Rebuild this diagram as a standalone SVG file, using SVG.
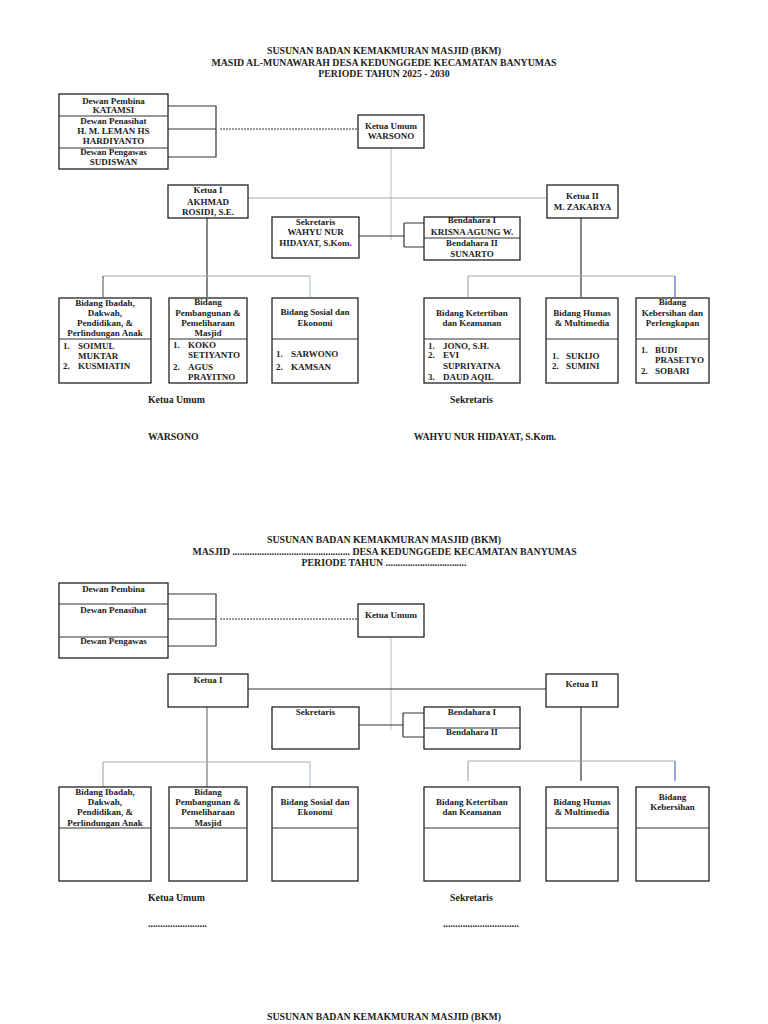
<svg xmlns="http://www.w3.org/2000/svg" width="768" height="1024" viewBox="0 0 768 1024">
<style>
text{font-family:"Liberation Serif","Times New Roman",serif;font-weight:bold;font-size:9px;fill:#222;text-anchor:middle}
text.l{text-anchor:start}
text.h{font-size:9.8px}
text.s{font-size:9.8px}
.box{fill:#fff;stroke:#222;stroke-width:1.3}
.ln{stroke:#333;stroke-width:1.2;fill:none}
.gr{stroke:#aaa;stroke-width:1.2;fill:none}
.lg{stroke:#c8c8c8;stroke-width:1.2;fill:none}
.bl{stroke:#b5c3dc;stroke-width:1.2;fill:none}
.bb{stroke:#4a6fc4;stroke-width:1.2;fill:none}
.dot{stroke:#333;stroke-width:1;stroke-dasharray:2 1;fill:none}
</style>
<rect width="768" height="1024" fill="#fff"/>

<!-- ===== Section 1 ===== -->
<g id="title1">
<text class="h" x="384" y="54">SUSUNAN BADAN KEMAKMURAN MASJID (BKM)</text>
<text class="h" x="384" y="66">MASID AL-MUNAWARAH DESA KEDUNGGEDE KECAMATAN BANYUMAS</text>
<text class="h" x="384" y="77">PERIODE TAHUN 2025 - 2030</text>
</g>

<g id="connectors1">
<path class="ln" d="M168,106H216V157H168M168,129H216"/>
<path class="dot" d="M220,129H358"/>
<path class="lg" d="M391,148V240"/>
<path class="gr" d="M248,198H547"/>
<path class="ln" d="M359,236H404M404,223V247M404,223H424M404,247H424"/>
<path class="ln" d="M207,218V297"/>
<path class="gr" d="M103,276H310"/>
<path class="ln" d="M103,276V297" style="stroke:#666"/>
<path class="bl" d="M310,276V297"/>
<path class="ln" d="M581,218V297"/>
<path class="gr" d="M468,276H675M468,276V297"/>
<path class="bb" d="M675,276V297"/>
</g>

<g id="dewan1">
<rect class="box" x="59" y="94" width="109" height="75"/>
<path class="ln" d="M59,116H168M59,148H168"/>
<text x="113.5" y="104">Dewan Pembina</text>
<text x="113.5" y="113">KATAMSI</text>
<text x="113.5" y="124">Dewan Penasihat</text>
<text x="113.5" y="134">H. M. LEMAN HS</text>
<text x="113.5" y="144">HARDIYANTO</text>
<text x="113.5" y="155">Dewan Pengawas</text>
<text x="113.5" y="165">SUDISWAN</text>
</g>

<g id="ketuaumum1">
<rect class="box" x="358" y="115" width="66" height="33"/>
<text x="391" y="129">Ketua Umum</text>
<text x="391" y="139">WARSONO</text>
</g>

<g id="ketua1-1">
<rect class="box" x="168" y="185" width="80" height="33"/>
<text x="208" y="193">Ketua I</text>
<text x="208" y="205">AKHMAD</text>
<text x="208" y="215">ROSIDI, S.E.</text>
</g>

<g id="ketua2-1">
<rect class="box" x="547" y="185" width="71" height="33"/>
<text x="582.5" y="199">Ketua II</text>
<text x="582.5" y="210">M. ZAKARYA</text>
</g>

<g id="sekretaris1">
<rect class="box" x="272" y="217" width="87" height="41"/>
<text x="315.5" y="225">Sekretaris</text>
<text x="315.5" y="235">WAHYU NUR</text>
<text x="315.5" y="246">HIDAYAT, S.Kom.</text>
</g>

<g id="bendahara1">
<rect class="box" x="424" y="217" width="96" height="43"/>
<path class="ln" d="M424,238H520"/>
<text x="472" y="223">Bendahara I</text>
<text x="472" y="235">KRISNA AGUNG W.</text>
<text x="472" y="246">Bendahara II</text>
<text x="472" y="257">SUNARTO</text>
</g>

<g id="bidang-ibadah1">
<rect class="box" x="59" y="298" width="92" height="85"/>
<path class="ln" d="M59,339H151"/>
<text x="105" y="306">Bidang Ibadah,</text>
<text x="105" y="316">Dakwah,</text>
<text x="105" y="326">Pendidikan, &amp;</text>
<text x="105" y="336">Perlindungan Anak</text>
<text class="l" x="63" y="349">1.</text><text class="l" x="78" y="349">SOIMUL</text>
<text class="l" x="78" y="359">MUKTAR</text>
<text class="l" x="63" y="369">2.</text><text class="l" x="78" y="369">KUSMIATIN</text>
</g>

<g id="bidang-pembangunan1">
<rect class="box" x="169" y="298" width="78" height="85"/>
<path class="ln" d="M169,339H247"/>
<text x="208" y="305">Bidang</text>
<text x="208" y="316">Pembangunan &amp;</text>
<text x="208" y="326">Pemeliharaan</text>
<text x="208" y="336">Masjid</text>
<text class="l" x="173" y="348">1.</text><text class="l" x="188" y="348">KOKO</text>
<text class="l" x="188" y="358">SETIYANTO</text>
<text class="l" x="173" y="370">2.</text><text class="l" x="188" y="370">AGUS</text>
<text class="l" x="188" y="380">PRAYITNO</text>
</g>

<g id="bidang-sosial1">
<rect class="box" x="272" y="298" width="86" height="85"/>
<path class="ln" d="M272,339H358"/>
<text x="315" y="315">Bidang Sosial dan</text>
<text x="315" y="326">Ekonomi</text>
<text class="l" x="276" y="357">1.</text><text class="l" x="291" y="357">SARWONO</text>
<text class="l" x="276" y="370">2.</text><text class="l" x="291" y="370">KAMSAN</text>
</g>

<g id="bidang-ketertiban1">
<rect class="box" x="424" y="298" width="96" height="85"/>
<path class="ln" d="M424,339H520"/>
<text x="472" y="316">Bidang Ketertiban</text>
<text x="472" y="326">dan Keamanan</text>
<text class="l" x="428" y="349">1.</text><text class="l" x="443" y="349">JONO, S.H.</text>
<text class="l" x="428" y="358">2.</text><text class="l" x="443" y="358">EVI</text>
<text class="l" x="443" y="369">SUPRIYATNA</text>
<text class="l" x="428" y="380">3.</text><text class="l" x="443" y="380">DAUD AQIL</text>
</g>

<g id="bidang-humas1">
<rect class="box" x="546" y="298" width="72" height="85"/>
<path class="ln" d="M546,339H618"/>
<text x="582" y="316">Bidang Humas</text>
<text x="582" y="326">&amp; Multimedia</text>
<text class="l" x="552" y="359">1.</text><text class="l" x="566" y="359">SUKIJO</text>
<text class="l" x="552" y="369">2.</text><text class="l" x="566" y="369">SUMINI</text>
</g>

<g id="bidang-kebersihan1">
<rect class="box" x="636" y="298" width="73" height="85"/>
<path class="ln" d="M636,339H709"/>
<text x="672.5" y="305">Bidang</text>
<text x="672.5" y="316">Kebersihan dan</text>
<text x="672.5" y="326">Perlengkapan</text>
<text class="l" x="641" y="353">1.</text><text class="l" x="655" y="353">BUDI</text>
<text class="l" x="655" y="363">PRASETYO</text>
<text class="l" x="641" y="374">2.</text><text class="l" x="655" y="374">SOBARI</text>
</g>

<g id="signatures1">
<text class="l s" x="148" y="403">Ketua Umum</text>
<text class="l s" x="148" y="440">WARSONO</text>
<text class="s" x="471.5" y="403">Sekretaris</text>
<text class="s" x="485" y="440">WAHYU NUR HIDAYAT, S.Kom.</text>
</g>

<!-- ===== Section 2 ===== -->
<g id="title2">
<text class="h" x="384" y="543">SUSUNAN BADAN KEMAKMURAN MASJID (BKM)</text>
<text class="h" x="384.5" y="555">MASJID ................................................ DESA KEDUNGGEDE KECAMATAN BANYUMAS</text>
<text class="h" x="384" y="566">PERIODE TAHUN .................................</text>
</g>

<g id="connectors2">
<path class="ln" d="M168,594H216V646H168M168,619H216"/>
<path class="dot" d="M220,619H358"/>
<path class="lg" d="M391,637V730"/>
<path class="ln" d="M248,689H546"/>
<path class="ln" d="M359,725H403M403,713V737M403,713H424M403,737H424"/>
<path class="ln" d="M207,707V787" style="stroke:#777"/>
<path class="gr" d="M103,762H310M103,762V787"/>
<path class="bl" d="M310,762V787"/>
<path class="ln" d="M581,707V781"/>
<path class="gr" d="M468,761H675M468,761V781"/>
<path class="bb" d="M675,761V781"/>
</g>

<g id="dewan2">
<rect class="box" x="59" y="583" width="109" height="75"/>
<path class="ln" d="M59,604H168M59,637H168"/>
<text x="113.5" y="592">Dewan Pembina</text>
<text x="113.5" y="613">Dewan Penasihat</text>
<text x="113.5" y="644">Dewan Pengawas</text>
</g>

<g id="ketuaumum2">
<rect class="box" x="358" y="604" width="66" height="33"/>
<text x="391" y="618">Ketua Umum</text>
</g>

<g id="ketua1-2">
<rect class="box" x="168" y="674" width="80" height="33"/>
<text x="208" y="683">Ketua I</text>
</g>

<g id="ketua2-2">
<rect class="box" x="546" y="674" width="72" height="33"/>
<text x="582" y="687">Ketua II</text>
</g>

<g id="sekretaris2">
<rect class="box" x="272" y="707" width="87" height="42"/>
<text x="315.5" y="715">Sekretaris</text>
</g>

<g id="bendahara2">
<rect class="box" x="424" y="707" width="96" height="42"/>
<path class="ln" d="M424,728H520"/>
<text x="472" y="715">Bendahara I</text>
<text x="472" y="735">Bendahara II</text>
</g>

<g id="bidang-ibadah2">
<rect class="box" x="59" y="787" width="92" height="94"/>
<path class="ln" d="M59,828H151"/>
<text x="105" y="795">Bidang Ibadah,</text>
<text x="105" y="805">Dakwah,</text>
<text x="105" y="815">Pendidikan, &amp;</text>
<text x="105" y="826">Perlindungan Anak</text>
</g>

<g id="bidang-pembangunan2">
<rect class="box" x="169" y="787" width="78" height="94"/>
<path class="ln" d="M169,828H247"/>
<text x="208" y="795">Bidang</text>
<text x="208" y="805">Pembangunan &amp;</text>
<text x="208" y="815">Pemeliharaan</text>
<text x="208" y="826">Masjid</text>
</g>

<g id="bidang-sosial2">
<rect class="box" x="272" y="787" width="86" height="94"/>
<path class="ln" d="M272,828H358"/>
<text x="315" y="805">Bidang Sosial dan</text>
<text x="315" y="815">Ekonomi</text>
</g>

<g id="bidang-ketertiban2">
<rect class="box" x="424" y="787" width="96" height="94"/>
<path class="ln" d="M424,828H520"/>
<text x="472" y="805">Bidang Ketertiban</text>
<text x="472" y="815">dan Keamanan</text>
</g>

<g id="bidang-humas2">
<rect class="box" x="546" y="787" width="72" height="94"/>
<path class="ln" d="M546,828H618"/>
<text x="582" y="805">Bidang Humas</text>
<text x="582" y="815">&amp; Multimedia</text>
</g>

<g id="bidang-kebersihan2">
<rect class="box" x="636" y="787" width="73" height="94"/>
<path class="ln" d="M636,828H709"/>
<text x="672.5" y="800">Bidang</text>
<text x="672.5" y="810">Kebersihan</text>
</g>

<g id="signatures2">
<text class="l s" x="148" y="901">Ketua Umum</text>
<text class="l s" x="148" y="927">........................</text>
<text class="s" x="471.5" y="901">Sekretaris</text>
<text class="s" x="481" y="927">...............................</text>
</g>

<!-- ===== Section 3 (start) ===== -->
<g id="title3">
<text class="h" x="384" y="1020">SUSUNAN BADAN KEMAKMURAN MASJID (BKM)</text>
</g>
</svg>
